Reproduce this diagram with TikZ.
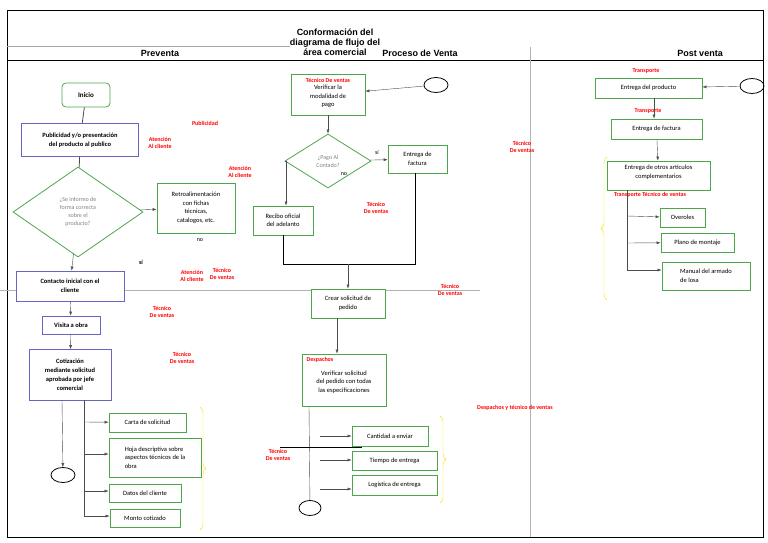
\documentclass[tikz,border=0pt]{standalone}
\usepackage{fontspec}
\setmainfont{Carlito}
\newfontfamily\hdr{Liberation Sans}
\usetikzlibrary{shapes.geometric,arrows.meta,decorations.pathreplacing}
\begin{document}
\begin{tikzpicture}[x=1pt,y=-1pt,
 gbox/.style={draw=green!50!black!70,thick,fill=white,align=center,font=\fontsize{6.5}{8.5}\selectfont,inner sep=1pt},
 bbox/.style={draw=blue!60!black!60,thick,fill=white,align=center,font=\bfseries\fontsize{6.5}{9}\selectfont,inner sep=1pt},
 dia/.style={draw=green!50!black!70,thick,diamond,aspect=1.45,align=center,text=gray,font=\fontsize{6}{8}\selectfont,inner sep=0pt},
 term/.style={draw,thick,ellipse,inner sep=0pt,minimum width=#1,minimum height=15},
 red/.style={text=red,font=\bfseries\fontsize{6}{7}\selectfont,align=center,inner sep=0pt},
 arr/.style={-{Latex[length=4pt,width=3pt]},gray!60!black},
 ln/.style={gray!60!black},
 brc/.style={draw=yellow!80!orange,decorate,decoration={brace,amplitude=6pt}},
 hd/.style={font=\hdr\bfseries\fontsize{9}{10}\selectfont,inner sep=0pt}]
\useasboundingbox (0,0) rectangle (768,543);
% frame
\draw[thick] (7,10) rectangle (763,537);
\draw[gray!70,thick] (7,46) -- (290,46);
\draw[thick] (7,60) -- (763,60);
\draw[gray!60,thick] (530,47) -- (530,537);
\draw[gray!60] (0,290) -- (480,290);
\node[hd,align=center] (title) at (335,42) {Conformación del\\diagrama de flujo del\\área comercial};
\node[hd] (h1) at (160,53) {Preventa};
\node[hd] (h2) at (420,53) {Proceso de Venta};
\node[hd] (h3) at (700,53) {Post venta};
% Preventa
\node[gbox,rounded corners=4pt,minimum width=48,minimum height=24,font=\bfseries\fontsize{7}{8}\selectfont] (inicio) at (86,95) {Inicio};
\node[bbox,minimum width=117,minimum height=33] (pub) at (80,140) {Publicidad y/o presentación\\del producto al publico};
\node[dia,minimum width=130,minimum height=90] (d1) at (78,212) {¿Se informo de\\forma correcta\\sobre el\\producto?};
\node[gbox,minimum width=78,minimum height=50] (retro) at (196,208) {Retroalimentación\\con fichas\\técnicas,\\catalogos, etc.};
\node[bbox,minimum width=108,minimum height=30] (cont) at (70,286) {Contacto inicial con el\\cliente};
\node[bbox,minimum width=58,minimum height=18] (vis) at (71,325) {Visita a obra};
\node[bbox,minimum width=82,minimum height=51] (cot) at (70,375) {Cotización\\mediante solicitud\\aprobada por jefe\\comercial};
\node[term=24] (t1) at (63,475) {};
\node[gbox,minimum width=77,minimum height=19] (carta) at (147.5,422.5) {Carta de solicitud};
\node[gbox,minimum width=92,minimum height=39,align=left] (hoja) at (155,457.5) {Hoja descriptiva sobre\\aspectos técnicos de la\\obra};
\node[gbox,minimum width=72,minimum height=18] (datos) at (145,493) {Datos del cliente};
\node[gbox,minimum width=70,minimum height=18] (monto) at (145,518) {Monto cotizado};
\draw[ln,thick] (inicio) -- (pub);
\draw[ln,thick] (pub) -- (d1);
\draw[arr] (d1) -- (retro);
\draw[arr] (d1) -- (cont);
\draw[arr] (cont) -- (vis);
\draw[arr] (vis) -- (cot);
\draw[arr] (62,400) -- (t1);
\coordinate (b1) at (84,400);
\draw[ln] (b1) -- (84,516);
\draw[arr] (84,422) -- (carta);
\draw[arr] (84,454) -- (hoja.west|-0,454);
\draw[arr] (84,491) -- (datos.west|-0,491);
\draw[arr] (84,516) -- (monto.west|-0,516);
\draw[brc] (200,407) -- (200,530);
\node[red] (r1) at (205,123) {Publicidad};
\node[red] (r2) at (160,143) {Atención\\Al cliente};
\node[red] (r3) at (240,172) {Atención\\Al cliente};
\node[red] (r4) at (192,276) {Atención\\Al cliente};
\node[red] (r5) at (222,274) {Técnico\\De ventas};
\node[font=\bfseries\fontsize{6}{7}\selectfont] (si1) at (141,262) {sí};
\node[font=\fontsize{6}{7}\selectfont] (no1) at (200,240) {no};
\node[red] (r6) at (162,312) {Técnico\\De ventas};
\node[red] (r7) at (182,358) {Técnico\\De ventas};
% Proceso de venta
\node[gbox,minimum width=74,minimum height=41] (ver) at (328,94.5) {\\Verificar la\\modalidad de\\pago};
\node[red] (r8) at (328,80) {Técnico De ventas};
\node[term=24] (t2) at (436,85) {};
\node[dia,minimum width=86,minimum height=54] (d2) at (328,161) {¿Pago Al\\Contado?};
\node[font=\fontsize{6}{7}\selectfont] (no2) at (344,174) {no};
\node[gbox,minimum width=59,minimum height=28] (fac) at (417.5,159) {Entrega de\\factura};
\node[font=\fontsize{6}{7}\selectfont] (si2) at (377,152) {sí};
\node[gbox,minimum width=60,minimum height=29] (rec) at (283,220.5) {Recibo oficial\\del adelanto};
\node[gbox,minimum width=74,minimum height=29] (crear) at (348,303.5) {Crear solicitud de\\pedido};
\node[gbox,minimum width=84,minimum height=52] (vsol) at (344,380) {\\Verificar solicitud\\del pedido con todas\\las especificaciones};
\node[red] (r9) at (320,360) {Despachos};
\node[term=22] (t3) at (310,508) {};
\node[gbox,minimum width=76,minimum height=20] (cant) at (390,436) {Cantidad a enviar};
\node[gbox,minimum width=85,minimum height=19] (tiem) at (394.5,460.5) {Tiempo de entrega};
\node[gbox,minimum width=85,minimum height=20] (log) at (394.5,485) {Logística de entrega};
\draw[arr] (t2) -- (ver);
\draw[arr] (ver) -- (d2);
\draw[arr] (d2) -- (fac);
\draw[arr] (d2.west) -| (rec.north-|286,0);
\draw (rec.south) -- (283,264) -- (415,264) -- (415,173);
\draw[arr] (348,264) -- (crear);
\draw[arr] (crear.south-|337,0) -- (vsol.north-|337,0);
\draw[ln] (309,406) -- (t3);
\draw[arr] (320,436) -- (cant);
\draw[arr] (320,460) -- (tiem.west|-0,460);
\draw[arr] (320,489) -- (log.west|-0,489);
\draw (280,447) -- (362,447);
\draw[brc] (440,416) -- (440,503);
\node[red] (r10) at (376,208) {Técnico\\De ventas};
\node[red] (r11) at (450,290) {Técnico\\De ventas};
\node[red] (r12) at (522,147) {Técnico\\De ventas};
\node[red] (r13) at (278,455) {Técnico\\De ventas};
\node[red] (r14) at (515,408) {Despachos y técnico de ventas};
% Post venta
\node[gbox,minimum width=107,minimum height=20] (ent) at (648.5,88) {Entrega del producto};
\node[term=24] (t4) at (752,86) {};
\node[gbox,minimum width=91,minimum height=20] (ef) at (656.5,129) {Entrega de factura};
\node[gbox,minimum width=103,minimum height=29] (otr) at (658.5,175.5) {Entrega de otros artículos\\complementarios\\[-1pt]};
\node[red] (r15) at (646,71) {Transporte};
\node[red] (r16) at (648,111) {Transporte};
\node[red] (r17) at (650,195) {Transporte Técnico de ventas};
\node[gbox,minimum width=45,minimum height=19] (ove) at (682.5,217.5) {Overoles};
\node[gbox,minimum width=73,minimum height=19] (pla) at (697.5,242.5) {Plano de montaje};
\node[gbox,minimum width=88,minimum height=28,align=left] (man) at (706,276) {Manual del armado\\de losa};
\draw[arr] (t4) -- (ent);
\draw[arr] (ent.south-|654,0) -- (ef.north-|654,0);
\draw[arr] (ef) -- (otr);
\draw[ln] (627,190) -- (627,270);
\draw[arr] (627,216) -- (ove);
\draw[arr] (627,243) -- (pla);
\draw[arr] (627,270) -- (man.west|-0,270);
\draw[brc] (607,300) -- (607,157);
\end{tikzpicture}
\end{document}
